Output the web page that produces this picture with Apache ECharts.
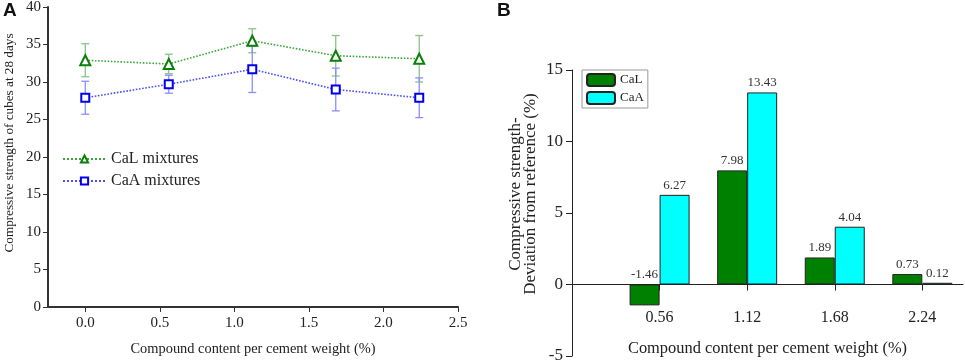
<!DOCTYPE html>
<html>
<head>
<meta charset="utf-8">
<script src="https://cdn.jsdelivr.net/npm/echarts@6/dist/echarts.min.js"></script>
<style>
  html, body { margin: 0; padding: 0; background: #fff; }
  #chart { width: 965px; height: 361px; }
</style>
</head>
<body>
<div id="chart"></div>
<script>
// panel A: strength at 28 days
var contentA = [0, 0.56, 1.12, 1.68, 2.24];
var calMean = [32.9, 32.4, 35.5, 33.5, 33.1];
var calErr = [2.2, 1.3, 1.6, 2.7, 3.1];
var caaMean = [27.9, 29.7, 31.7, 29.0, 27.9];
var caaErr = [2.2, 1.2, 3.1, 2.85, 2.65];
var ticksA = [0, 0.5, 1.0, 1.5, 2.0, 2.5];

// panel B: deviation from reference
var contentB = [0.56, 1.12, 1.68, 2.24];
var calDev = [-1.46, 7.98, 1.89, 0.73];
var caaDev = [6.27, 13.43, 4.04, 0.12];

var serif = 'Liberation Serif';
var mychart = echarts.init(document.getElementById('chart'));

function pairs(xs, ys) {
    return xs.map(function (x, i) { return [x, ys[i]]; });
}
function errData(xs, m, e) {
    return xs.map(function (x, i) { return [x, m[i] - e[i], m[i] + e[i]]; });
}
function errBars(color) {
    return function (params, api) {
        var lo = api.coord([api.value(0), api.value(1)]);
        var hi = api.coord([api.value(0), api.value(2)]);
        var w = 4;
        var st = { stroke: color, lineWidth: 1.3 };
        return {
            type: 'group',
            children: [
                { type: 'line', shape: { x1: lo[0], y1: lo[1], x2: hi[0], y2: hi[1] }, style: st },
                { type: 'line', shape: { x1: lo[0] - w, y1: lo[1], x2: lo[0] + w, y2: lo[1] }, style: st },
                { type: 'line', shape: { x1: hi[0] - w, y1: hi[1], x2: hi[0] + w, y2: hi[1] }, style: st }
            ]
        };
    };
}
function barLabel() {
    return {
        show: true, position: 'top', distance: 3,
        fontFamily: serif, fontSize: 13, color: '#333',
        formatter: function (p) { return p.value[1].toFixed(2); }
    };
}

var option = {
    animation: false,
    textStyle: { fontFamily: serif },
    graphic: [
        { type: 'text', left: 3, top: 1, style: { text: 'A', font: 'bold 19px "Liberation Sans"', fill: '#111' } },
        { type: 'text', left: 497, top: 1, style: { text: 'B', font: 'bold 19px "Liberation Sans"', fill: '#111' } }
    ],
    grid: [
        { left: 48, top: 7, width: 410, height: 300, outerBoundsMode: 'none' },
        { left: 572, top: 70, width: 391, height: 286, outerBoundsMode: 'none' },
        // upper part of panel B, its bottom edge is the zero line
        { left: 572, top: 70, width: 391, height: 214.5, outerBoundsMode: 'none' }
    ],
    legend: [
        {
            data: ['CaL mixtures', 'CaA mixtures'],
            orient: 'vertical',
            left: 57, top: 146,
            itemWidth: 43, itemHeight: 9, itemGap: 6,
            textStyle: { fontFamily: serif, fontSize: 16, color: '#222' }
        },
        {
            data: ['CaL', 'CaA'],
            orient: 'vertical',
            left: 582, top: 70,
            padding: [3, 4, 3, 4],
            itemWidth: 28, itemHeight: 12, itemGap: 4,
            borderColor: '#999', borderWidth: 1,
            textStyle: { fontFamily: serif, fontSize: 13, color: '#222' }
        }
    ],
    xAxis: [
        {
            gridIndex: 0, type: 'value', min: -0.25, max: 2.5,
            name: 'Compound content per cement weight (%)',
            nameLocation: 'middle', nameGap: 35,
            nameTextStyle: { fontFamily: serif, fontSize: 14.4, color: '#222' },
            axisLine: { show: true, lineStyle: { color: '#333', width: 2 } },
            axisTick: { show: true, length: 5, customValues: ticksA, lineStyle: { color: '#333' } },
            axisLabel: {
                customValues: ticksA, margin: 9,
                fontFamily: serif, fontSize: 15, color: '#222',
                formatter: function (v) { return v.toFixed(1); }
            },
            splitLine: { show: false }
        },
        {
            gridIndex: 1, type: 'value', min: 0, max: 2.5, show: false
        },
        {
            gridIndex: 2, type: 'value', min: 0, max: 2.5,
            name: 'Compound content per cement weight (%)',
            nameLocation: 'middle', nameGap: 56,
            nameTextStyle: { fontFamily: serif, fontSize: 16.4, color: '#222' },
            axisLine: { show: true, onZero: false, lineStyle: { color: '#222', width: 1 } },
            axisTick: { show: true, length: 6, customValues: contentB, lineStyle: { color: '#222' } },
            axisLabel: {
                customValues: contentB, margin: 25,
                fontFamily: serif, fontSize: 16, color: '#222',
                formatter: function (v) { return v.toFixed(2); }
            },
            splitLine: { show: false }
        }
    ],
    yAxis: [
        {
            gridIndex: 0, type: 'value', min: 0, max: 40, interval: 5,
            name: 'Compressive strength of cubes at 28 days',
            nameLocation: 'middle', nameGap: 32,
            nameTextStyle: { fontFamily: serif, fontSize: 13.2, color: '#222', padding: [0, 0, 0, 28] },
            axisLine: { show: true, onZero: false, lineStyle: { color: '#333', width: 2 } },
            axisTick: { show: true, length: 5, lineStyle: { color: '#333' } },
            axisLabel: { margin: 7, fontFamily: serif, fontSize: 15, color: '#222' },
            splitLine: { show: false }
        },
        {
            gridIndex: 1, type: 'value', min: -5, max: 15, interval: 5,
            name: 'Compressive strength-\nDeviation from reference (%)',
            nameLocation: 'middle', nameGap: 34,
            nameTextStyle: { fontFamily: serif, fontSize: 17, color: '#222', lineHeight: 15, padding: [0, 0, 0, 38] },
            axisLine: { show: true, onZero: false, lineStyle: { color: '#222', width: 1 } },
            axisTick: { show: true, length: 6, lineStyle: { color: '#222' } },
            axisLabel: { margin: 9, fontFamily: serif, fontSize: 17, color: '#222' },
            splitLine: { show: false }
        },
        {
            gridIndex: 2, type: 'value', min: 0, max: 15, show: false
        }
    ],
    series: [
        {
            name: 'CaL err', type: 'custom', xAxisIndex: 0, yAxisIndex: 0,
            renderItem: errBars('#86c486'), data: errData(contentA, calMean, calErr), z: 1
        },
        {
            name: 'CaA err', type: 'custom', xAxisIndex: 0, yAxisIndex: 0,
            renderItem: errBars('#8c8cff'), data: errData(contentA, caaMean, caaErr), z: 1
        },
        {
            name: 'CaL mixtures', type: 'line', xAxisIndex: 0, yAxisIndex: 0,
            data: pairs(contentA, calMean),
            symbol: 'triangle', symbolSize: 10, showAllSymbol: true,
            lineStyle: { color: '#3aa83a', type: 'dotted', width: 1.6 },
            itemStyle: { color: '#fff', borderColor: '#0a7f0a', borderWidth: 2 },
            z: 3
        },
        {
            name: 'CaA mixtures', type: 'line', xAxisIndex: 0, yAxisIndex: 0,
            data: pairs(contentA, caaMean),
            symbol: 'rect', symbolSize: 8, showAllSymbol: true,
            lineStyle: { color: '#4d4dff', type: 'dotted', width: 1.6 },
            itemStyle: { color: '#fff', borderColor: '#0000ee', borderWidth: 2 },
            z: 3
        },
        {
            name: 'CaL', type: 'bar', xAxisIndex: 1, yAxisIndex: 1,
            data: pairs(contentB, calDev),
            barWidth: 30, barGap: '0%',
            itemStyle: { color: '#008000', borderColor: '#222', borderWidth: 1 },
            label: barLabel()
        },
        {
            name: 'CaA', type: 'bar', xAxisIndex: 1, yAxisIndex: 1,
            data: pairs(contentB, caaDev),
            barWidth: 30, barGap: '0%',
            itemStyle: { color: '#00ffff', borderColor: '#222', borderWidth: 1 },
            label: barLabel()
        }
    ]
};
mychart.setOption(option);
</script>
</body>
</html>
